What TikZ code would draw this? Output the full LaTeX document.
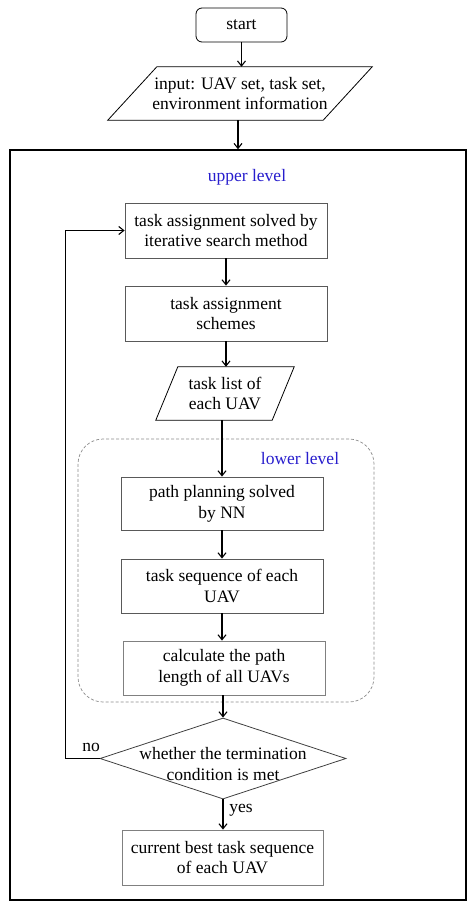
\documentclass[tikz,border=0pt]{standalone}
\usepackage{fontspec}
\setmainfont{Liberation Serif}
\usetikzlibrary{shapes,arrows,positioning,calc,arrows.meta}
\definecolor{lvlblue}{RGB}{40,30,205}

\tikzset{
    base/.style={font=\fontsize{17.5}{20.7}\selectfont, align=center, inner sep=0pt},
    term/.style={base, draw, rounded corners=6pt, line width=0.8pt, minimum width=91pt, minimum height=34pt},
    proc/.style={base, draw=black!65, line width=0.8pt, minimum width=202pt, minimum height=55pt},
    io/.style={base, minimum height=53pt},
    decision/.style={diamond, draw=black!75, line width=0.8pt, minimum width=246pt, minimum height=81pt, inner sep=0pt},
    level/.style={base, text=lvlblue},
    arr/.style={-{Straight Barb[length=5pt,width=8pt]}, line width=1.1pt}
}

\begin{document}
\begin{tikzpicture}[x=1pt,y=-1pt]
    \useasboundingbox (0,0) rectangle (474,910);
    % frames
    \node[draw, line width=1.5pt, minimum width=456pt, minimum height=750pt, inner sep=0pt] (frame) at (238,525) {};
    \node[draw=black!45, dash pattern=on 3pt off 2pt, rounded corners=25pt, line width=0.7pt, minimum width=296pt, minimum height=263pt, inner sep=0pt] (lower) at (226,570.5) {};
    \node[level] (uplbl) at (247,177) {upper level};
    \node[level] (lowlbl) at (300,459) {lower level};

    % steps
    \node[term] (start) at (241.5,25) {start};
    \node[io, minimum width=215pt] (in) at (240,93.5) {input: UAV set, task set,\\environment information};
    \node[proc] (assign) at (226,230.5) {task assignment solved by\\iterative search method};
    \node[proc] (scheme) at (226,313.5) {task assignment\\schemes};
    \node[io, minimum width=116pt] (list) at (225,393.5) {task list of\\each UAV};
    \node[proc, minimum height=53pt] (plan) at (222,503.5) {path planning solved\\by NN};
    \node[proc, minimum height=54pt] (seq) at (222,586) {task sequence of each\\UAV};
    \node[proc, draw=black!50, minimum height=54pt] (length) at (224,668) {calculate the path\\length of all UAVs};
    \node[decision] (cond) at (223,758.5) {};
    \node[base] (condtxt) at (223,764) {whether the termination\\condition is met};
    \node[proc, draw=black!50, minimum width=201pt] (best) at (222.5,857.5) {current best task sequence\\of each UAV};
    \node[base] (no) at (91,747) {no};
    \node[base] (yes) at (241,810) {yes};

    % slanted sides for the input/output steps
    \foreach \n/\s in {in/24.5, list/11}
        \draw[line width=0.8pt] ([xshift=\s pt]\n.north west) -- ([xshift=\s pt]\n.north east)
            -- ([xshift=-\s pt]\n.south east) -- ([xshift=-\s pt]\n.south west) -- cycle;

    % connectors
    \draw[arr] (start) -- (start |- in.north);
    \draw[arr] ([xshift=-2pt]in.south) -- ([xshift=-2pt]in.south |- frame.north);
    \draw[arr] (assign) -- (scheme);
    \draw[arr] (scheme.south) -- (scheme.south |- list.north);
    \draw[arr] (plan.north |- list.south) -- (plan.north);
    \draw[arr] (plan) -- (seq);
    \draw[arr] (seq.south) -- (seq.south |- length.north);
    \draw[arr] (length.south -| cond) -- (cond.north);
    \draw[arr] (cond.south) -- (cond.south |- best.north);
    \draw[arr] (cond.west) -- ++(-34,0) |- (assign.west);
\end{tikzpicture}
\end{document}
